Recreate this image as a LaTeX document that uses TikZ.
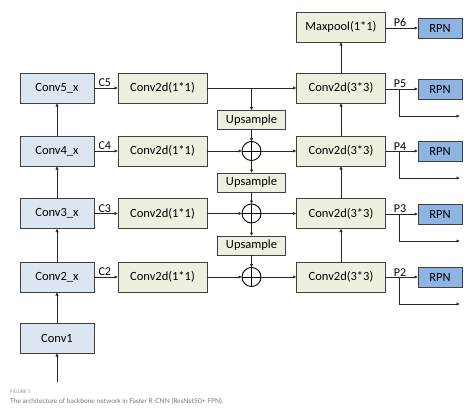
\documentclass[tikz,border=0pt]{standalone}
\usepackage{fontspec}
\setmainfont{Carlito}
\newfontfamily\capfont{Lato}
\usetikzlibrary{arrows.meta,calc}
\definecolor{bluebox}{HTML}{DCE6F2}
\definecolor{greenbox}{HTML}{EBF1DE}
\definecolor{rpnbox}{HTML}{8DB4E2}
\definecolor{edge}{HTML}{404040}
\begin{document}
\begin{tikzpicture}[x=1pt,y=-1pt,
  every node/.style={inner sep=0pt,outer sep=0pt,font=\fontsize{12.5}{13}\selectfont},
  bbox/.style={draw=edge,line width=0.9pt,fill=bluebox,minimum width=74pt,minimum height=30pt},
  gbox/.style={draw=edge,line width=0.9pt,fill=greenbox,minimum width=89pt,minimum height=30pt},
  upbox/.style={draw=edge,line width=0.9pt,fill=greenbox,minimum width=68pt,minimum height=19pt},
  rpn/.style={draw=edge,line width=0.9pt,fill=rpnbox,minimum width=44pt,minimum height=20pt},
  plus/.style={draw=black,line width=0.9pt,circle,minimum size=19pt,
    path picture={\draw[line width=0.9pt] (path picture bounding box.north) -- (path picture bounding box.south)
      (path picture bounding box.west) -- (path picture bounding box.east);}},
  lbl/.style={font=\fontsize{12}{12}\selectfont,anchor=south},
  conn/.style={draw=black!85,line width=0.9pt,-{Latex[length=3.5pt,width=3.5pt]}},
  line/.style={draw=black!85,line width=0.9pt}]
\useasboundingbox (0,0) rectangle (474,415);
% backbone
\node[bbox] (c5) at (57,88) {Conv5\_x};
\node[bbox] (c4) at (57,151) {Conv4\_x};
\node[bbox] (c3) at (57,213.5) {Conv3\_x};
\node[bbox] (c2) at (57,277) {Conv2\_x};
\node[bbox] (c1) at (57,338) {Conv1};
\coordinate (in) at (57,382);
\draw[conn] (in) -- (c1);
\draw[conn] (c1) -- (c2);
\draw[conn] (c2) -- (c3);
\draw[conn] (c3) -- (c4);
\draw[conn] (c4) -- (c5);
% lateral 1x1
\node[gbox] (l5) at (162.5,88) {Conv2d(1*1)};
\node[gbox] (l4) at (162.5,151) {Conv2d(1*1)};
\node[gbox] (l3) at (162.5,213.5) {Conv2d(1*1)};
\node[gbox] (l2) at (162.5,277) {Conv2d(1*1)};
\draw[conn] (c5) -- node[lbl,pos=0.45,yshift=1pt]{C5} (l5);
\draw[conn] (c4) -- node[lbl,pos=0.45,yshift=1pt]{C4} (l4);
\draw[conn] (c3) -- node[lbl,pos=0.45,yshift=1pt]{C3} (l3);
\draw[conn] (c2) -- node[lbl,pos=0.45,yshift=1pt]{C2} (l2);
% 3x3
\node[gbox] (p5) at (341,88) {Conv2d(3*3)};
\node[gbox] (p4) at (341,151) {Conv2d(3*3)};
\node[gbox] (p3) at (341,213.5) {Conv2d(3*3)};
\node[gbox] (p2) at (341,277) {Conv2d(3*3)};
\node[gbox] (mp) at (341,27) {Maxpool(1*1)};
% top-down
\node[upbox] (u1) at (251.5,120) {Upsample};
\node[upbox] (u2) at (251.5,182.5) {Upsample};
\node[upbox] (u3) at (251.5,245.5) {Upsample};
\node[plus] (a4) at (251.5,151) {};
\node[plus] (a3) at (251.5,213.5) {};
\node[plus] (a2) at (251.5,277) {};
\coordinate (j5) at (251.5,88);
\draw[conn] (l5) -- (p5);
\draw[conn] (j5) -- (u1);
\draw[conn] (u1) -- (a4);
\draw[conn] (a4) -- (u2);
\draw[conn] (u2) -- (a3);
\draw[conn] (a3) -- (u3);
\draw[conn] (u3) -- (a2);
\draw[conn] (l4) -- (a4);
\draw[conn] (l3) -- (a3);
\draw[conn] (l2) -- (a2);
\draw[conn] (a4) -- (p4);
\draw[conn] (a3) -- (p3);
\draw[conn] (a2) -- (p2);
% bottom-up on P
\draw[conn] (p2) -- (p3);
\draw[conn] (p3) -- (p4);
\draw[conn] (p4) -- (p5);
\draw[conn] (p5) -- (mp);
% RPN
\node[rpn] (r6) at (440,28) {RPN};
\node[rpn] (r5) at (440,89) {RPN};
\node[rpn] (r4) at (440,151) {RPN};
\node[rpn] (r3) at (440,214) {RPN};
\node[rpn] (r2) at (440,277) {RPN};
\draw[conn] (mp.east |- r6) -- node[lbl,pos=0.45,yshift=1pt]{P6} (r6);
\draw[conn] (p5.east |- r5) -- node[lbl,pos=0.45,yshift=1pt]{P5} (r5);
\draw[conn] (p4.east |- r4) -- node[lbl,pos=0.45,yshift=1pt]{P4} (r4);
\draw[conn] (p3.east |- r3) -- node[lbl,pos=0.45,yshift=1pt]{P3} (r3);
\draw[conn] (p2.east |- r2) -- node[lbl,pos=0.45,yshift=1pt]{P2} (r2);
\foreach \r/\y in {5/89,4/151,3/214,2/277}{
  \coordinate (b\r) at (399,\y);
  \coordinate (e\r) at (460,\y+27);
  \draw[conn] (b\r) |- (e\r);
}
% caption
\node[anchor=west,font=\capfont\fontsize{4.8}{5}\selectfont,text=black!45] (fig) at (10,392) {FIGURE 5};
\node[anchor=west,font=\capfont\fontsize{6.6}{7}\selectfont,text=black!55] (cap) at (10,401) {The architecture of backbone network in Faster R-CNN (ResNet50+ FPN).};
\end{tikzpicture}
\end{document}
